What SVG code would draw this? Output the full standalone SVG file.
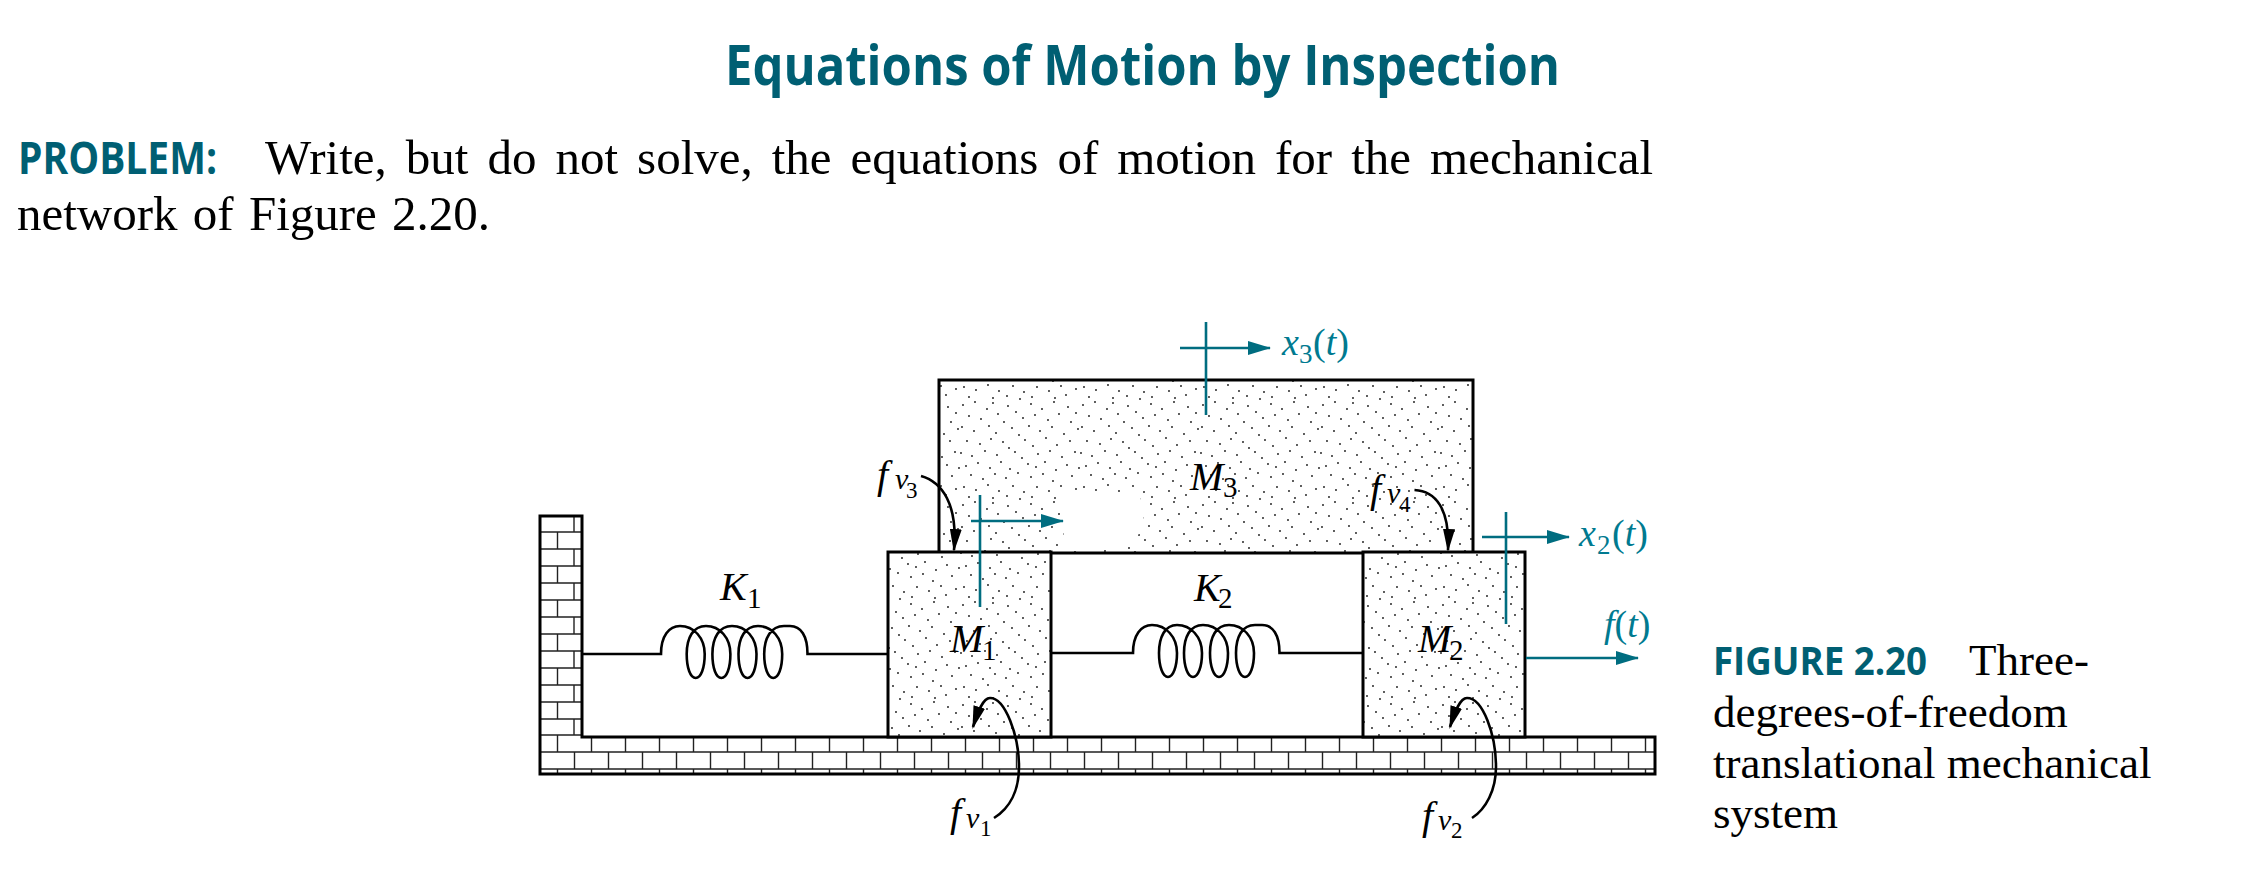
<svg xmlns="http://www.w3.org/2000/svg" width="2250" height="886" viewBox="0 0 2250 886">
<style>
.bold{font-family:"Open Sans","Liberation Sans",sans-serif;font-weight:700;fill:#005f73}
.body{font-family:"Liberation Serif",serif;fill:#000}
.lab{font-family:"Liberation Serif",serif;font-style:italic;fill:#000;font-size:40px}
.teal{fill:#007a90;font-size:38px}
.s{font-style:normal;font-size:29px}
.vs{font-size:30px}
.vn{font-style:normal;font-size:23px}
.box{fill:url(#stipple);stroke:#000;stroke-width:3}
.wire{fill:none;stroke:#000;stroke-width:2.6}
.force{fill:none;stroke:#000;stroke-width:2.6;marker-end:url(#hb)}
.cross{fill:none;stroke:#006d80;stroke-width:2.6}
.crossa{fill:none;stroke:#006d80;stroke-width:2.6;marker-end:url(#ht)}
.brick{fill:none;stroke:#222;stroke-width:1.4}
.outer{fill:none;stroke:#000;stroke-width:3}
</style>
<defs>
<marker id="hb" markerUnits="userSpaceOnUse" markerWidth="24" markerHeight="12" refX="21" refY="6" orient="auto"><path d="M0 0L23 6L0 12z" fill="#000"/></marker>
<marker id="ht" markerUnits="userSpaceOnUse" markerWidth="24" markerHeight="14" refX="22" refY="7" orient="auto"><path d="M0 0L23 7L0 14z" fill="#006d80"/></marker>
<pattern id="stipple" patternUnits="userSpaceOnUse" width="120" height="100">
<rect width="120" height="100" fill="#fff"/>
<path d="M3 5h0M15 2h0M27 9h0M33 3h0M48 6h0M56 12h0M71 4h0M82 9h0M94 2h0M108 7h0M116 13h0M9 16h0M21 19h0M38 14h0M44 22h0M63 18h0M75 15h0M88 20h0M99 14h0M111 22h0M2 27h0M14 31h0M29 26h0M36 33h0M52 28h0M59 35h0M69 26h0M80 31h0M92 27h0M104 34h0M118 29h0M7 41h0M20 44h0M31 39h0M43 42h0M49 48h0M65 40h0M73 46h0M86 38h0M97 45h0M110 41h0M1 53h0M12 56h0M25 51h0M37 55h0M55 52h0M62 58h0M78 54h0M90 51h0M102 57h0M115 52h0M6 66h0M18 63h0M30 68h0M41 62h0M50 69h0M68 64h0M76 67h0M85 62h0M96 70h0M107 65h0M119 68h0M11 75h0M23 79h0M35 74h0M46 78h0M58 73h0M71 77h0M83 74h0M93 81h0M112 76h0M4 87h0M16 90h0M28 85h0M39 91h0M53 86h0M64 92h0M77 87h0M89 91h0M101 86h0M116 89h0M9 97h0M33 98h0M47 96h0M60 99h0M72 97h0M95 98h0M106 95h0" fill="none" stroke="#111" stroke-width="1.8" stroke-linecap="round"/>
</pattern>
</defs>
<rect width="2250" height="886" fill="#fff"/>

<g id="heading">
<text class="bold" x="725" y="85" font-size="55" textLength="835" lengthAdjust="spacingAndGlyphs">Equations of Motion by Inspection</text>
<text class="bold" x="18" y="174" font-size="45" textLength="199" lengthAdjust="spacingAndGlyphs">PROBLEM:</text>
<text class="body" x="265" y="174" font-size="49" word-spacing="6.75">Write, but do not solve, the equations of motion for the mechanical</text>
<text class="body" x="17" y="230" font-size="49" word-spacing="3">network of Figure 2.20.</text>
</g>

<g id="caption">
<text class="bold" x="1713" y="675" font-size="40" textLength="214" lengthAdjust="spacingAndGlyphs">FIGURE 2.20</text>
<text class="body" x="1969" y="675" font-size="45">Three-</text>
<text class="body" x="1713" y="727" font-size="45">degrees-of-freedom</text>
<text class="body" x="1713" y="778" font-size="45">translational mechanical</text>
<text class="body" x="1713" y="828" font-size="45">system</text>
</g>

<g id="ground">
<path d="M540 516H582V737H1655V774H540z" fill="#fff"/>
<path class="brick" d="M540 532H582M540 549H582M540 566H582M540 583H582M540 600H582M540 617H582M540 634H582M540 651H582M540 668H582M540 685H582M540 702H582M540 719H582M540 735H582M540 752H1655M540 769H1655"/>
<path class="brick" d="M574 516V532M557.5 532V549M574 549V566M557.5 566V583M574 583V600M557.5 600V617M574 617V634M557.5 634V651M574 651V668M557.5 668V685M574 685V702M557.5 702V719M574 719V735M557.5 735V752"/>
<path class="brick" d="M591.5 737V752M625.5 737V752M659.5 737V752M693.5 737V752M727.5 737V752M761.5 737V752M795.5 737V752M829.5 737V752M863.5 737V752M897.5 737V752M931.5 737V752M965.5 737V752M999.5 737V752M1033.5 737V752M1067.5 737V752M1101.5 737V752M1135.5 737V752M1169.5 737V752M1203.5 737V752M1237.5 737V752M1271.5 737V752M1305.5 737V752M1339.5 737V752M1373.5 737V752M1407.5 737V752M1441.5 737V752M1475.5 737V752M1509.5 737V752M1543.5 737V752M1577.5 737V752M1611.5 737V752M1645.5 737V752"/>
<path class="brick" d="M574.5 752V769M608.5 752V769M642.5 752V769M676.5 752V769M710.5 752V769M744.5 752V769M778.5 752V769M812.5 752V769M846.5 752V769M880.5 752V769M914.5 752V769M948.5 752V769M982.5 752V769M1016.5 752V769M1050.5 752V769M1084.5 752V769M1118.5 752V769M1152.5 752V769M1186.5 752V769M1220.5 752V769M1254.5 752V769M1288.5 752V769M1322.5 752V769M1356.5 752V769M1390.5 752V769M1424.5 752V769M1458.5 752V769M1492.5 752V769M1526.5 752V769M1560.5 752V769M1594.5 752V769M1628.5 752V769"/>
<path class="brick" d="M557.5 769V774M591.5 769V774M625.5 769V774M659.5 769V774M693.5 769V774M727.5 769V774M761.5 769V774M795.5 769V774M829.5 769V774M863.5 769V774M897.5 769V774M931.5 769V774M965.5 769V774M999.5 769V774M1033.5 769V774M1067.5 769V774M1101.5 769V774M1135.5 769V774M1169.5 769V774M1203.5 769V774M1237.5 769V774M1271.5 769V774M1305.5 769V774M1339.5 769V774M1373.5 769V774M1407.5 769V774M1441.5 769V774M1475.5 769V774M1509.5 769V774M1543.5 769V774M1577.5 769V774M1611.5 769V774M1645.5 769V774"/>
<path class="outer" d="M540 516H582V737H1655V774H540z"/>
</g>

<g id="M3">
<rect class="box" x="939" y="380" width="534" height="173"/>
<path d="M1062 494H1140L1144 520L1135 543L1110 546H1064z" fill="#fff"/>
<text class="lab" x="1190" y="490">M<tspan class="s" x="1223" y="497">3</tspan></text>
</g>
<g id="M1">
<rect class="box" x="888" y="552" width="163" height="185"/>
<text class="lab" x="950" y="652">M<tspan class="s" x="982" y="660">1</tspan></text>
</g>
<g id="M2">
<rect class="box" x="1363" y="552" width="162" height="185"/>
<text class="lab" x="1418" y="652">M<tspan class="s" x="1449" y="660">2</tspan></text>
</g>
<g id="K1"><text class="lab" x="720" y="600">K<tspan class="s" x="747" y="608">1</tspan></text></g>
<g id="K2"><text class="lab" x="1194" y="601">K<tspan class="s" x="1218" y="608">2</tspan></text></g>

<g id="connectors">
<path class="wire" d="M582 654H661C661 636 669 626 680 626C694 626 704.7 638 704.7 654C704.7 668 701 678 695.7 678C690.4 678 686.7 668 686.7 654C686.7 638 693 626 706 626C720 626 730.4 638 730.4 654C730.4 668 726.7 678 721.4 678C716 678 712.4 668 712.4 654C712.4 638 719 626 732 626C746 626 756.5 638 756.5 654C756.5 668 752.8 678 747.5 678C742.2 678 738.5 668 738.5 654C738.5 638 745 626 758 626C772 626 782.2 638 782.2 654C782.2 668 778.5 678 773.2 678C768 678 764.2 668 764.2 654C764.2 638 771 626 784 626H790C801 626 807.5 636 807.5 654H888"/>
<path class="wire" d="M1051 653H1133C1133 635 1141 625 1152 625C1166 625 1177 637 1177 653C1177 667 1173 677 1168 677C1163 677 1159 667 1159 653C1159 637 1165 625 1177 625C1191 625 1202 637 1202 653C1202 667 1198 677 1193 677C1188 677 1184 667 1184 653C1184 637 1190 625 1203 625C1217 625 1228 637 1228 653C1228 667 1224 677 1219 677C1214 677 1210 667 1210 653C1210 637 1216 625 1229 625C1243 625 1254 637 1254 653C1254 667 1250 677 1245 677C1240 677 1236 667 1236 653C1236 637 1242 625 1255 625H1262C1273 625 1279.5 635 1279.5 653H1363"/>
<path class="force" d="M921 476C942 482 958 504 954 550"/>
<path class="force" d="M1414.5 490C1435 491 1450 508 1448 550"/>
<path class="force" d="M994 818C1010 808 1019 790 1019 767C1019 735 1005 698 990 698C983 698 978 711 973 727"/>
<path class="force" d="M1472 818C1486 809 1496 790 1496 767C1496 735 1483 698 1467 698C1460 698 1455 711 1450 727"/>
<path class="cross" d="M1206 322V415"/><path class="crossa" d="M1180 348H1270"/>
<path class="cross" d="M980 495V607"/><path class="crossa" d="M971 521H1063"/>
<path class="cross" d="M1506 512V624"/><path class="crossa" d="M1482 537H1569"/>
<path class="crossa" d="M1526 658H1638"/>
</g>

<g id="labels">
<text class="lab teal" x="1282" y="355">x<tspan class="s" style="font-size:27px" x="1299" y="363">3</tspan><tspan x="1313" y="355" font-style="normal">(</tspan>t<tspan font-style="normal">)</tspan></text>
<text class="lab teal" x="1579" y="546">x<tspan class="s" style="font-size:27px" x="1597" y="554">2</tspan><tspan x="1612" y="546" font-style="normal">(</tspan>t<tspan font-style="normal">)</tspan></text>
<text class="lab teal" x="1604" y="637">f<tspan font-style="normal">(</tspan>t<tspan font-style="normal">)</tspan></text>
<text class="lab" x="877" y="488">f<tspan class="vs" x="895" y="489">v</tspan><tspan class="vn" x="906" y="498">3</tspan></text>
<text class="lab" x="1370" y="502">f<tspan class="vs" x="1387" y="503">v</tspan><tspan class="vn" x="1399" y="512">4</tspan></text>
<text class="lab" x="950" y="826">f<tspan class="vs" x="966" y="828">v</tspan><tspan class="vn" x="980" y="836">1</tspan></text>
<text class="lab" x="1422" y="829">f<tspan class="vs" x="1438" y="830">v</tspan><tspan class="vn" x="1451" y="838">2</tspan></text>
</g>
</svg>
